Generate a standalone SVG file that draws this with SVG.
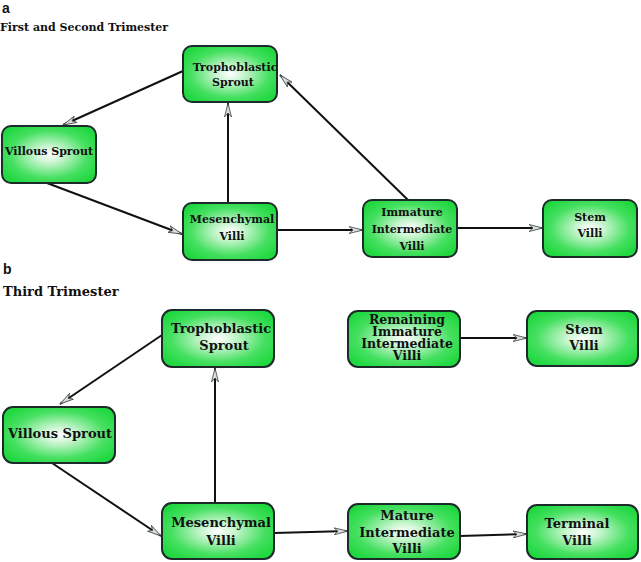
<svg xmlns="http://www.w3.org/2000/svg" width="641" height="562" viewBox="0 0 641 562">
<defs>
<radialGradient id="g" cx="50%" cy="50%" r="60%">
<stop offset="0" stop-color="#ffffff"/>
<stop offset="0.25" stop-color="#c8f5cf"/>
<stop offset="0.7" stop-color="#45e060"/>
<stop offset="1" stop-color="#20d840"/>
</radialGradient>
<marker id="ah" viewBox="0 0 14 8" refX="14" refY="4" markerWidth="14" markerHeight="8" orient="auto" markerUnits="userSpaceOnUse">
<path d="M0,0.5 L14,4 L0,7.5 L4,4 z" fill="#d8dcdc" stroke="#3a4444" stroke-width="0.8" stroke-linejoin="round"/>
</marker>
<style>
.box{fill:url(#g);stroke:#1c2a2a;stroke-width:2}
.t{font-family:"DejaVu Serif",serif;font-weight:bold;fill:#111;text-anchor:middle}
.a{font-size:11px}
.b{font-size:13px}
.c{stroke:#111;stroke-width:2;fill:none;marker-end:url(#ah)}
.lab{font-family:"Liberation Sans",Arial,sans-serif;font-weight:bold;font-size:14px;fill:#111}
.ttl{font-family:"DejaVu Serif",serif;font-weight:bold;fill:#111}
</style>
</defs>
<rect width="641" height="562" fill="#ffffff"/>
<text class="lab" x="2" y="13">a</text>
<text class="ttl" x="0" y="31" font-size="11">First and Second Trimester</text>
<text class="lab" x="3" y="274">b</text>
<text class="ttl" x="3" y="296" font-size="13">Third Trimester</text>

<g id="connectors">
<line class="c" x1="183" y1="71" x2="63" y2="125"/>
<line class="c" x1="228" y1="203" x2="228" y2="103"/>
<line class="c" x1="47" y1="183" x2="182" y2="234"/>
<line class="c" x1="277" y1="230" x2="363" y2="230"/>
<line class="c" x1="408" y1="200" x2="280" y2="75"/>
<line class="c" x1="457" y1="228" x2="543" y2="228"/>
<line class="c" x1="162" y1="335" x2="60" y2="404"/>
<line class="c" x1="215" y1="503" x2="215" y2="368"/>
<line class="c" x1="52" y1="463" x2="161" y2="536"/>
<line class="c" x1="274" y1="533" x2="348" y2="531"/>
<line class="c" x1="460" y1="536" x2="527" y2="534"/>
<line class="c" x1="460" y1="338" x2="527" y2="338"/>
</g>

<g id="a-trophoblastic">
<rect class="box" x="183" y="46" width="94" height="56" rx="9"/>
<text class="t a" x="235" y="71">Trophoblastic</text>
<text class="t a" x="233" y="86">Sprout</text>
</g>
<g id="a-villous">
<rect class="box" x="2" y="126" width="94" height="57" rx="9"/>
<text class="t a" x="49" y="155">Villous Sprout</text>
</g>
<g id="a-mesenchymal">
<rect class="box" x="183" y="203" width="94" height="57" rx="9"/>
<text class="t a" x="232" y="223">Mesenchymal</text>
<text class="t a" x="232" y="240">Villi</text>
</g>
<g id="a-immature">
<rect class="box" x="363" y="200" width="94" height="57" rx="9"/>
<text class="t a" x="412" y="216">Immature</text>
<text class="t a" x="412" y="233">Intermediate</text>
<text class="t a" x="412" y="250">Villi</text>
</g>
<g id="a-stem">
<rect class="box" x="543" y="200" width="94" height="57" rx="9"/>
<text class="t a" x="590" y="221">Stem</text>
<text class="t a" x="590" y="237">Villi</text>
</g>

<g id="b-trophoblastic">
<rect class="box" x="162" y="310" width="112" height="57" rx="10"/>
<text class="t b" x="221" y="333">Trophoblastic</text>
<text class="t b" x="224" y="350">Sprout</text>
</g>
<g id="b-villous">
<rect class="box" x="3" y="407" width="112" height="56" rx="10"/>
<text class="t b" x="60" y="438">Villous Sprout</text>
</g>
<g id="b-mesenchymal">
<rect class="box" x="162" y="503" width="112" height="56" rx="10"/>
<text class="t b" x="221" y="527">Mesenchymal</text>
<text class="t b" x="221" y="545">Villi</text>
</g>
<g id="b-remaining">
<rect class="box" x="348" y="311" width="112" height="56" rx="10"/>
<text class="t" font-size="12.5" x="407" y="324">Remaining</text>
<text class="t" font-size="12.5" x="407" y="336">Immature</text>
<text class="t" font-size="12.5" x="407" y="348">Intermediate</text>
<text class="t" font-size="12.5" x="407" y="360">Villi</text>
</g>
<g id="b-stem">
<rect class="box" x="527" y="311" width="111" height="55" rx="10"/>
<text class="t b" x="584" y="334">Stem</text>
<text class="t b" x="584" y="350">Villi</text>
</g>
<g id="b-mature">
<rect class="box" x="348" y="504" width="112" height="55" rx="10"/>
<text class="t b" x="407" y="520">Mature</text>
<text class="t b" x="407" y="537">Intermediate</text>
<text class="t b" x="407" y="553">Villi</text>
</g>
<g id="b-terminal">
<rect class="box" x="527" y="505" width="111" height="54" rx="10"/>
<text class="t b" x="577" y="528">Terminal</text>
<text class="t b" x="577" y="545">Villi</text>
</g>
</svg>
